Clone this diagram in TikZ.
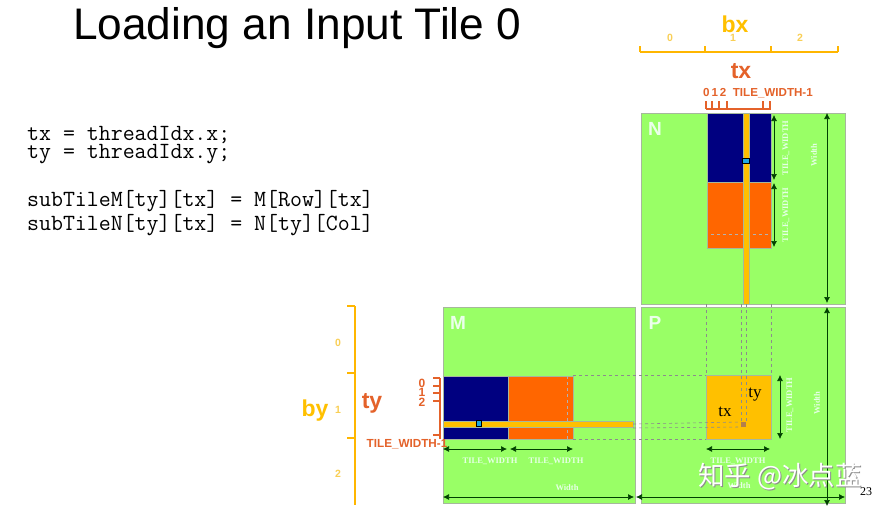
\documentclass[tikz,border=0pt]{standalone}
\usepackage{fontspec}
\setmainfont{Liberation Sans}
\newfontfamily\serifnum{Liberation Serif}
\newfontfamily\cjk{Noto Sans CJK SC}
\usetikzlibrary{arrows.meta}
\definecolor{matgreen}{HTML}{99FF66}
\definecolor{matedge}{HTML}{A6B89C}
\definecolor{tilenavy}{HTML}{000080}
\definecolor{tileorange}{HTML}{FF6600}
\definecolor{tileyellow}{HTML}{FFC000}
\definecolor{barlabel}{HTML}{F9CF55}
\definecolor{idxlabel}{HTML}{E4622A}
\definecolor{threadcell}{HTML}{1FA7E0}
\tikzset{
    box/.style={inner sep=0pt, outer sep=0pt, anchor=north west, draw=matedge, line width=0.9pt},
    matbox/.style={box, fill=matgreen},
    matname/.style={text=white!92!green, font=\bfseries\fontsize{19}{19}\selectfont},
    dimline/.style={{Latex[length=6pt,width=6pt]}-{Latex[length=6pt,width=6pt]}, line width=0.7pt, black!75!green},
    dimtext/.style={text=white!90!green, font=\serifnum\bfseries\fontsize{8.5}{8.5}\selectfont},
    guide/.style={dashed, black!45, line width=0.6pt},
    barline/.style={tileyellow!85!orange, line width=1.4pt},
    combline/.style={idxlabel, line width=1.3pt},
    barnum/.style={text=barlabel, font=\bfseries\fontsize{10.5}{10.5}\selectfont},
    codeline/.style={anchor=west, inner sep=0pt, font=\ttfamily\fontsize{23.2}{24}\selectfont}
}
\begin{document}
\begin{tikzpicture}[x=1pt, y=-1pt]
    \useasboundingbox[fill=white] (0,0) rectangle (886,514);
    % title and code
    \node[anchor=west, inner sep=0pt, font=\fontsize{44.2}{46}\selectfont] (title) at (73,28) {Loading an Input Tile 0};
    \node[codeline] (codetx) at (27,135) {tx = threadIdx.x;};
    \node[codeline] (codety) at (27,154) {ty = threadIdx.y;};
    \node[codeline] (codeM) at (27,201) {subTileM[ty][tx] = M[Row][tx]};
    \node[codeline] (codeN) at (27,225) {subTileN[ty][tx] = N[ty][Col]};
    % matrices
    \node[matbox, minimum width=204pt, minimum height=191pt] (N) at (641,113) {};
    \node[matbox, minimum width=204pt, minimum height=196pt] (P) at (641,307) {};
    \node[matbox, minimum width=192pt, minimum height=196pt] (M) at (443,307) {};
    \node[matname] (Nname) at (655,129) {N};
    \node[matname] (Pname) at (655,323) {P};
    \node[matname] (Mname) at (458,323) {M};
    % tiles
    \node[box, fill=tilenavy, minimum width=64pt, minimum height=69pt] (Nblue) at (707,113) {};
    \node[box, fill=tileorange, minimum width=64pt, minimum height=66pt] (Norange) at (707,182) {};
    \node[box, fill=tilenavy, minimum width=65pt, minimum height=63pt] (Mblue) at (443,376) {};
    \node[box, fill=tileorange, minimum width=65pt, minimum height=63pt] (Morange) at (508,376) {};
    \node[box, fill=tileyellow, minimum width=65pt, minimum height=64pt] (Ptile) at (706,375) {};
    \draw[guide, black!30] (711,234) -- (768,234);
    \draw[guide, black!30] (567,376) -- (567,439);
    % thread strips
    \node[box, fill=tileyellow, minimum width=6pt, minimum height=191pt] (Nstrip) at (743,113) {};
    \node[box, fill=tileyellow, minimum width=190pt, minimum height=6pt] (Mstrip) at (443,421) {};
    \node[box, draw=black, fill=threadcell, minimum width=7pt, minimum height=5pt] (Ncell) at (742,158) {};
    \node[box, draw=black, fill=threadcell, minimum width=5pt, minimum height=6pt] (Mcell) at (476,420.5) {};
    \node[box, draw=none, fill=brown!80!gray, minimum width=5pt, minimum height=5pt] (Pcell) at (741,422) {};
    \node[font=\serifnum\fontsize{17}{17}\selectfont] (txlabel) at (725,412) {tx};
    \node[font=\serifnum\fontsize{17}{17}\selectfont] (tylabel) at (755,395) {ty};
    % guides from the strips to P
    \coordinate (gv1) at (706,304);
    \coordinate (gv2) at (741,304);
    \coordinate (gv3) at (746,304);
    \coordinate (gv4) at (771,304);
    \coordinate (gh1) at (573,375);
    \coordinate (gh2) at (633,424);
    \coordinate (gh3) at (633,428);
    \coordinate (gh4) at (573,439);
    \draw[guide] (gv1) -- (Ptile.north west);
    \draw[guide] (gv2) -- (Pcell.north west);
    \draw[guide] (gv3) -- (Pcell.north east);
    \draw[guide] (gv4) -- (Ptile.north east);
    \draw[guide] (gh1) -- (Ptile.north west);
    \draw[guide] (gh2) -- (Pcell.north west);
    \draw[guide] (gh3) -- (Pcell.south west);
    \draw[guide] (gh4) -- (Ptile.south west);
    % dimension arrows
    \foreach \name/\xa/\ya/\xb/\yb in {da/774/115/774/180, db/774/183/774/247, dc/827/113/827/303,
        dd/827/307/827/506, de/780/375/780/439, df/706/449/770/449, dg/636/497/845/497,
        dh/443/449/507/449, di/510/449/573/449, dj/443/497/634/497} {
        \coordinate (\name1) at (\xa,\ya);
        \coordinate (\name2) at (\xb,\yb);
        \draw[dimline] (\name1) -- (\name2);
    }
    \node[dimtext, rotate=90] (wNa) at (786,148) {TILE\_WIDTH};
    \node[dimtext, rotate=90] (wNb) at (786,215) {TILE\_WIDTH};
    \node[dimtext, rotate=90] (wNc) at (814,155) {Width};
    \node[dimtext, rotate=90] (wPa) at (790,405) {TILE\_WIDTH};
    \node[dimtext, rotate=90] (wPb) at (817,403) {Width};
    \node[dimtext] (wMa) at (490,461) {TILE\_WIDTH};
    \node[dimtext] (wMb) at (556,461) {TILE\_WIDTH};
    \node[dimtext] (wMc) at (567,488) {Width};
    \node[dimtext] (wPc) at (738,461) {TILE\_WIDTH};
    \node[dimtext] (wPd) at (739,486) {Width};
    % bx and by scales
    \coordinate (bx0) at (640,52);
    \coordinate (bx3) at (838,52);
    \draw[barline] (bx0) -- (bx3);
    \foreach \x in {640,705,771,838} {
        \draw[barline] (\x,46) -- (\x,52);
    }
    \node[text=tileyellow, font=\bfseries\fontsize{23}{23}\selectfont] (bxname) at (735,24) {bx};
    \node[barnum] (bxa) at (670,38) {0};
    \node[barnum] (bxb) at (733,38) {1};
    \node[barnum] (bxc) at (800,38) {2};
    \coordinate (by0) at (355,306);
    \coordinate (by3) at (355,505);
    \draw[barline] (by0) -- (by3);
    \foreach \y in {306,373,438} {
        \draw[barline] (347,\y) -- (355,\y);
    }
    \node[text=tileyellow, font=\bfseries\fontsize{23}{23}\selectfont] (byname) at (315,411) {by};
    \node[barnum] (bya) at (338,343) {0};
    \node[barnum] (byb) at (338,410) {1};
    \node[barnum] (byc) at (338,474) {2};
    % tx and ty combs
    \node[text=idxlabel, font=\bfseries\fontsize{23}{23}\selectfont] (txname) at (741,71) {tx};
    \node[text=idxlabel, font=\bfseries\fontsize{23}{23}\selectfont] (tyname) at (372,403) {ty};
    \node[text=idxlabel, font=\bfseries\fontsize{11.6}{12}\selectfont] (txticks) at (758,93) {0\,1\,2\ \ TILE\_WIDTH-1};
    \draw[combline] (706,109) -- (771,109);
    \foreach \x in {706,712,719,727,763,770} {
        \draw[combline] (\x,101) -- (\x,109);
    }
    \draw[combline] (440,378) -- (440,439);
    \foreach \y in {378,386,393,401,435} {
        \draw[combline] (433,\y) -- (440,\y);
    }
    \node[text=idxlabel, font=\bfseries\fontsize{12}{12}\selectfont] (tya) at (422,383) {0};
    \node[text=idxlabel, font=\bfseries\fontsize{12}{12}\selectfont] (tyb) at (422,392.5) {1};
    \node[text=idxlabel, font=\bfseries\fontsize{12}{12}\selectfont] (tyc) at (422,402) {2};
    \node[text=idxlabel, font=\bfseries\fontsize{11.7}{12}\selectfont] (tyw) at (407,444) {TILE\_WIDTH-1};
    % page number and watermark
    \node[font=\serifnum\fontsize{12}{12}\selectfont] (pagenum) at (866,492) {23};
    \node[text=black!45, font=\cjk\fontsize{26.5}{27}\selectfont] (markshadow) at (781,478) {知乎 @冰点蓝};
    \node[text=white, font=\cjk\fontsize{26.5}{27}\selectfont] (mark) at (780,477) {知乎 @冰点蓝};
\end{tikzpicture}
\end{document}
